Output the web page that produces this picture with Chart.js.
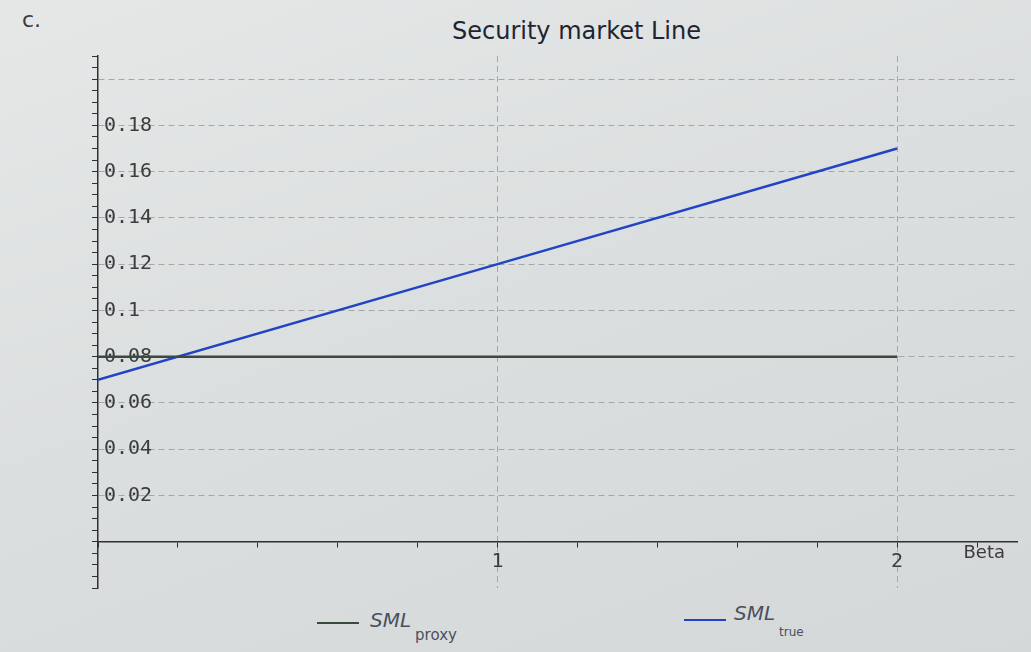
<!DOCTYPE html>
<html>
<head>
<meta charset="utf-8">
<script src="https://cdn.jsdelivr.net/npm/chart.js@4.4.1/dist/chart.umd.min.js"></script>
<style>
  html, body { margin: 0; padding: 0; overflow: hidden; }
  body {
    width: 1031px; height: 652px; position: relative;
    background: linear-gradient(160deg, #e6e8e8 0%, #dcdfdf 45%, #d5d8d8 100%);
    font-family: "DejaVu Sans", sans-serif;
  }
  #chart { position: absolute; left: 0; top: 0; }
  .txt { position: absolute; color: #1f2433; white-space: nowrap; }
  #part { left: 22px; top: 7px; font-size: 22px; color: #3a3c3e; }
  #title { left: 452px; top: 17px; font-size: 24px; }
  .leg { position: absolute; height: 40px; }
  .leg .swatch { position: absolute; left: 0; width: 42px; height: 0; border-top: 2.5px solid; }
  .leg .name { position: absolute; font-style: italic; color: #4a5060; white-space: nowrap; }
  .leg .sub { position: relative; font-style: normal; }
</style>
</head>
<body>
<div class="txt" id="part">c.</div>
<div class="txt" id="title">Security market Line</div>
<div class="leg" id="leg0" style="left:317px; top:622px;">
  <div class="swatch" style="top:0px;"></div>
  <div class="name" style="left:53px; top:-14px; font-size:20px;"></div>
</div>
<div class="leg" id="leg1" style="left:684px; top:619px;">
  <div class="swatch" style="top:0px;"></div>
  <div class="name" style="left:50px; top:-18px; font-size:20px;"></div>
</div>
<canvas id="chart" width="1031" height="652"></canvas>
<script>
const betaValues = [0, 1, 2];
const smlProxy = [0.08, 0.08, 0.08];
const smlTrue = [0.07, 0.12, 0.17];

const seriesNames = ["SML", "SML"];
const seriesSubs = ["proxy", "true"];
const seriesColors = ["#3b4a3e", "#2143c4"];

const yTickValues = [0.02, 0.04, 0.06, 0.08, 0.1, 0.12, 0.14, 0.16, 0.18];
const yTickLabels = ["0.02", "0.04", "0.06", "0.08", "0.1", "0.12", "0.14", "0.16", "0.18"];
const yGridValues = [0.02, 0.04, 0.06, 0.08, 0.1, 0.12, 0.14, 0.16, 0.18, 0.2];
const xTickValues = [1, 2];
const xTickLabels = ["1", "2"];
const xAxisLabel = "Beta";

function near(a, b) {
  return Math.abs(a - b) < 1e-6;
}

function toPoints(values) {
  return betaValues.map((b, i) => ({ x: b, y: values[i] }));
}

// légende avec indices
const subStyles = [
  "font-size:15px; left:4px; top:13px;",
  "font-size:12px; left:4px; top:16px;",
];
[0, 1].forEach(function (i) {
  const el = document.getElementById("leg" + i);
  el.querySelector(".swatch").style.borderTopColor = seriesColors[i];
  el.querySelector(".name").innerHTML =
    seriesNames[i] + '<span class="sub" style="' + subStyles[i] + '">' + seriesSubs[i] + "</span>";
});

const axisLabelPlugin = {
  id: "axisLabel",
  afterDraw(chart) {
    const ctx = chart.ctx;
    const x = chart.scales.x;
    const y0 = chart.scales.y.getPixelForValue(0);
    ctx.save();
    ctx.font = "18px 'DejaVu Sans'";
    ctx.fillStyle = "#3a3c40";
    ctx.textAlign = "right";
    ctx.textBaseline = "top";
    ctx.fillText(xAxisLabel, x.right - 12, y0 + 3);
    ctx.restore();
  },
};

const ctx = document.getElementById("chart").getContext("2d");

new Chart(ctx, {
  type: "line",
  data: {
    datasets: [
      {
        label: seriesNames[0] + " " + seriesSubs[0],
        data: toPoints(smlProxy),
        borderColor: seriesColors[0],
        borderWidth: 2.5,
        pointRadius: 0,
        tension: 0,
      },
      {
        label: seriesNames[1] + " " + seriesSubs[1],
        data: toPoints(smlTrue),
        borderColor: seriesColors[1],
        borderWidth: 2.5,
        pointRadius: 0,
        tension: 0,
      },
    ],
  },
  options: {
    responsive: false,
    animation: false,
    devicePixelRatio: 1,
    layout: { padding: { left: 80, right: 14, top: 56, bottom: 64 } },
    plugins: {
      legend: { display: false },
      title: { display: false },
      tooltip: { enabled: false },
    },
    scales: {
      x: {
        type: "linear",
        position: { y: 0 },
        min: 0,
        max: 2.3,
        border: { display: true, color: "#2e3032", width: 1.5, dash: [6, 4] },
        grid: {
          color: (c) => (xTickValues.some((v) => near(v, c.tick.value)) ? "#a4a8aa" : "rgba(0,0,0,0)"),
          tickColor: "#2e3032",
          tickLength: 5,
          lineWidth: 1,
        },
        ticks: {
          stepSize: 0.2,
          includeBounds: false,
          autoSkip: false,
          maxRotation: 0,
          padding: 3,
          color: "#3a3c40",
          font: { family: "DejaVu Sans Mono", size: 20 },
          callback: function (value) {
            const i = xTickValues.findIndex((v) => near(v, value));
            return i >= 0 ? xTickLabels[i] : "";
          },
        },
      },
      y: {
        type: "linear",
        position: "left",
        min: -0.02,
        max: 0.21,
        border: { display: true, color: "#2e3032", width: 1.5, dash: [6, 4] },
        grid: {
          color: (c) => (yGridValues.some((v) => near(v, c.tick.value)) ? "#a4a8aa" : "rgba(0,0,0,0)"),
          tickColor: "#2e3032",
          tickLength: 6,
          lineWidth: 1,
        },
        ticks: {
          stepSize: 0.005,
          includeBounds: false,
          autoSkip: false,
          mirror: true,
          padding: 6,
          color: "#3a3c40",
          font: { family: "DejaVu Sans Mono", size: 20 },
          callback: function (value) {
            const i = yTickValues.findIndex((v) => near(v, value));
            return i >= 0 ? yTickLabels[i] : "";
          },
        },
      },
    },
  },
  plugins: [axisLabelPlugin],
});
</script>
</body>
</html>
